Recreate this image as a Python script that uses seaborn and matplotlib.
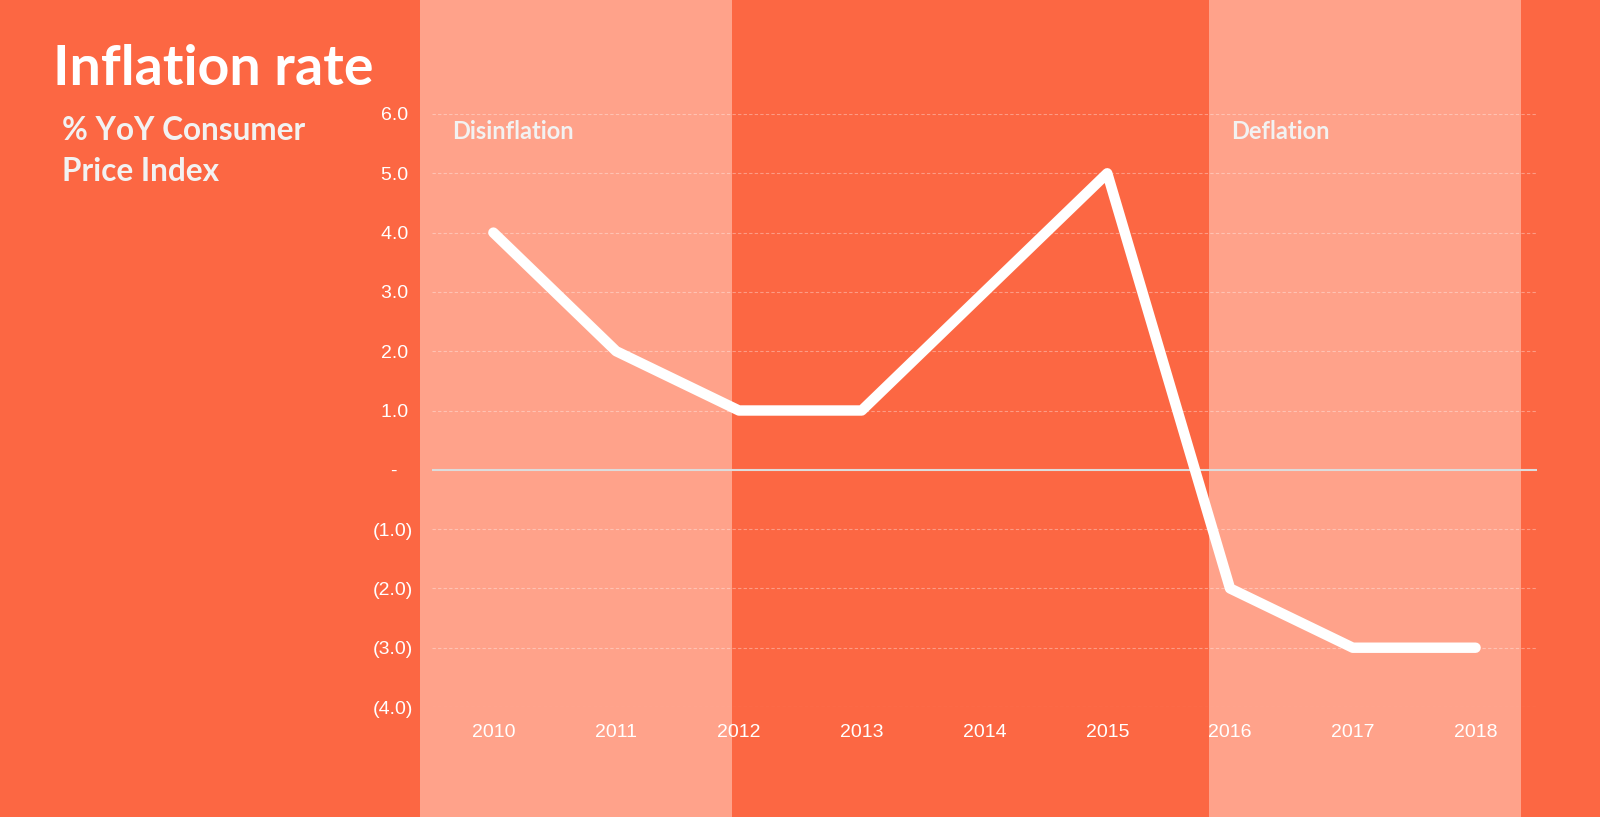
import pandas as pd
import numpy as np
import matplotlib
matplotlib.use('Agg')
import matplotlib.pyplot as plt
from matplotlib.ticker import FuncFormatter
import seaborn as sns

# data
years = ['2010', '2011', '2012', '2013', '2014', '2015', '2016', '2017', '2018']
inflation = [4, 2, 1, 1, 3, 5, -2, -3, -3]
y_ticks = [-4, -3, -2, -1, 0, 1, 2, 3, 4, 5, 6]

# shaded periods (in category positions) and their labels
periods = ['Disinflation', 'Deflation']
period_start = [-0.6, 5.83]
period_end = [1.94, 8.37]
label_offset = [0.26, 0.175]

BG = '#FC6743'
BAND = '#FFA28A'

df = pd.DataFrame({'Year': years, 'Inflation': inflation})

sns.set_style('white', {'axes.facecolor': 'none', 'figure.facecolor': BG})
plt.rcParams['font.family'] = ['Liberation Sans', 'DejaVu Sans']

fig = plt.figure(figsize=(16, 8.17), dpi=100)
fig.patch.set_facecolor(BG)
ax = fig.add_axes([0.27, 0.1346, 0.6906, 0.7259])
ax.set_facecolor('none')

# shaded bands stretching over the full figure height
for s, e, off, name in zip(period_start, period_end, label_offset, periods):
    ax.axvspan(s, e, ymin=-0.3, ymax=1.3, color=BAND, lw=0, zorder=0, clip_on=False)
    ax.text(s + off, 5.58, name, family=['Lato', 'DejaVu Sans'], fontweight='bold',
            fontsize=17, color='#f2f2f2', va='baseline', ha='left', zorder=1)

# gridlines
for t in y_ticks:
    if t == 0:
        ax.axhline(0, color='#dcdcdc', lw=1.5, zorder=2)
    else:
        ax.axhline(t, color='white', alpha=0.35, lw=0.8, ls=(0, (3, 2)), zorder=2)

sns.lineplot(data=df, x='Year', y='Inflation', ax=ax, color='white', lw=7.5,
             solid_capstyle='round', solid_joinstyle='round', zorder=3)

ax.set_xlim(-0.5, 8.5)
ax.set_ylim(-4, 6)
ax.set_yticks(y_ticks)


# accounting style: positives padded for the ")", zero shown as a dash
def fmt(v, pos):
    if v == 0:
        return '-   '
    if v < 0:
        return '({:.1f})'.format(-v)
    return '{:.1f} '.format(v)


ax.yaxis.set_major_formatter(FuncFormatter(fmt))
ax.tick_params(axis='y', length=0, pad=13.5, labelsize=14, labelcolor='white')
ax.tick_params(axis='x', length=0, pad=12, labelsize=14, labelcolor='white')
ax.set_xlabel('')
ax.set_ylabel('')
for sp in ax.spines.values():
    sp.set_visible(False)
ax.grid(False)

fig.text(53 / 1600, 1 - 85 / 817, 'Inflation rate', family=['Lato', 'DejaVu Sans'],
         fontweight='bold', fontsize=40, color='white', va='baseline', ha='left')
fig.text(62 / 1600, 1 - 140 / 817, '% YoY Consumer', family=['Lato', 'DejaVu Sans'],
         fontweight='bold', fontsize=22.7, color='#f2f2f2', va='baseline', ha='left')
fig.text(62 / 1600, 1 - 181 / 817, 'Price Index', family=['Lato', 'DejaVu Sans'],
         fontweight='bold', fontsize=22.7, color='#f2f2f2', va='baseline', ha='left')

fig.savefig('out.png', dpi=100, facecolor=BG)
